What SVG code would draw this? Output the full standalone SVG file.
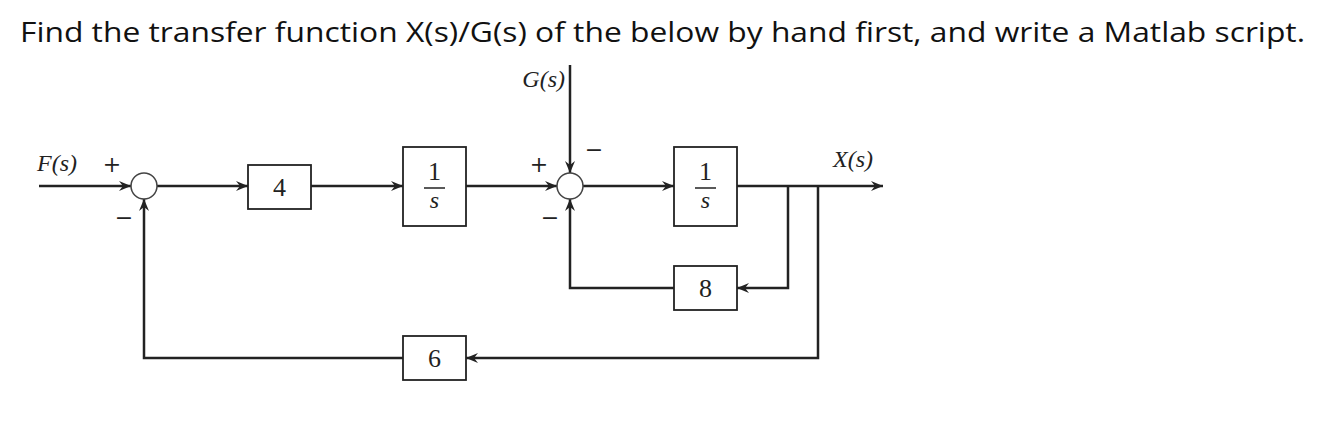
<svg xmlns="http://www.w3.org/2000/svg" width="1330" height="428" viewBox="0 0 1330 428">
<style>
.title{font-family:"Open Sans","Liberation Sans",sans-serif;font-size:27px;fill:#111}
.lbl{font-family:"Liberation Serif",serif;font-style:italic;font-size:24px;fill:#222}
.num{font-family:"Liberation Serif",serif;font-size:26px;fill:#222;text-anchor:middle}
.sym{font-family:"DejaVu Serif",serif;font-size:22px;fill:#222;text-anchor:middle}
.box{fill:#fff;stroke:#222;stroke-width:1.8}
.ln{fill:none;stroke:#222;stroke-width:2.5}
</style>
<defs>
<marker id="a" viewBox="0 0 12 10" refX="12" refY="5" markerWidth="12" markerHeight="10" markerUnits="userSpaceOnUse" orient="auto">
<path d="M0,0 L12,5 L0,10 L4,5 Z" fill="#222"/>
</marker>
</defs>
<rect width="1330" height="428" fill="#fff"/>
<text class="title" x="20" y="42" textLength="1285" lengthAdjust="spacingAndGlyphs">Find the transfer function X(s)/G(s) of the below by hand first, and write a Matlab script.</text>
<g id="connectors">
<line class="ln" x1="39" y1="186" x2="131" y2="186" marker-end="url(#a)"/>
<line class="ln" x1="157" y1="186" x2="248" y2="186" marker-end="url(#a)"/>
<line class="ln" x1="311" y1="186" x2="403" y2="186" marker-end="url(#a)"/>
<line class="ln" x1="466" y1="186" x2="557" y2="186" marker-end="url(#a)"/>
<line class="ln" x1="570" y1="65" x2="570" y2="173" marker-end="url(#a)"/>
<line class="ln" x1="583" y1="186" x2="674" y2="186" marker-end="url(#a)"/>
<line class="ln" x1="737" y1="186" x2="883" y2="186" marker-end="url(#a)"/>
<polyline class="ln" points="788,186 788,288 737,288" marker-end="url(#a)"/>
<polyline class="ln" points="674,288 570,288 570,199" marker-end="url(#a)"/>
<polyline class="ln" points="818,186 818,358 466,358" marker-end="url(#a)"/>
<polyline class="ln" points="403,358 144,358 144,199" marker-end="url(#a)"/>
</g>
<g id="sum1"><circle cx="144" cy="186" r="13" fill="#fff" stroke="#444" stroke-width="1.5"/></g>
<g id="sum2"><circle cx="570" cy="186" r="13" fill="#fff" stroke="#444" stroke-width="1.5"/></g>
<g id="gain4"><rect class="box" x="248" y="165" width="63" height="44"/><text class="num" x="279.5" y="196">4</text></g>
<g id="int1"><rect class="box" x="403" y="147" width="63" height="79"/><text class="num" x="434.5" y="180">1</text><line x1="424" y1="188" x2="445" y2="188" stroke="#222" stroke-width="1.5"/><text class="lbl" x="434.5" y="208" text-anchor="middle">s</text></g>
<g id="int2"><rect class="box" x="674" y="147" width="63" height="79"/><text class="num" x="705.5" y="180">1</text><line x1="695" y1="188" x2="716" y2="188" stroke="#222" stroke-width="1.5"/><text class="lbl" x="705.5" y="208" text-anchor="middle">s</text></g>
<g id="gain8"><rect class="box" x="674" y="266" width="63" height="44"/><text class="num" x="705.5" y="297">8</text></g>
<g id="gain6"><rect class="box" x="403" y="336" width="63" height="44"/><text class="num" x="434.5" y="367">6</text></g>
<text class="lbl" x="37" y="171">F(s)</text>
<text class="sym" x="112" y="172">+</text>
<text class="sym" x="124" y="225">−</text>
<text class="lbl" x="565" y="87" text-anchor="end">G(s)</text>
<text class="sym" x="539" y="172">+</text>
<text class="sym" x="594" y="157">−</text>
<text class="sym" x="550" y="225">−</text>
<text class="lbl" x="833" y="167">X(s)</text>
</svg>
